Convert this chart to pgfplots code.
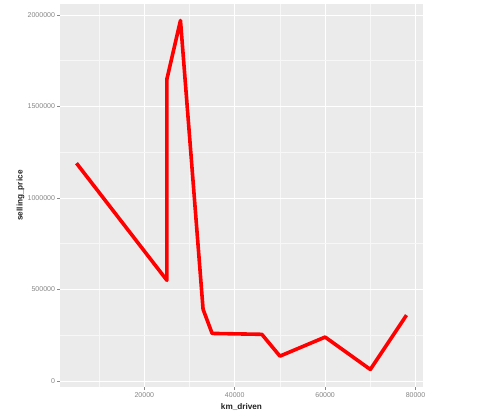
\documentclass[border=0pt]{standalone}
\usepackage{fontspec}
\setmainfont{Liberation Sans}
\usepackage{pgfplots}
\pgfplotsset{compat=1.18}
\definecolor{panel}{HTML}{EBEBEB}
\definecolor{ticktext}{HTML}{858585}
\definecolor{tickcol}{HTML}{8A8A8A}
\definecolor{titletext}{HTML}{222222}
\begin{document}
\begin{tikzpicture}
\begin{axis}[
  scale only axis,
  width=363pt, height=383pt,
  xmin=1350, xmax=81650,
  ymin=-32800, ymax=2060000,
  axis background/.style={fill=panel},
  axis line style={draw=none},
  xtick={20000,40000,60000,80000},
  xticklabels={20000,40000,60000,80000},
  ytick={0,500000,1000000,1500000,2000000},
  yticklabels={0,500000,1000000,1500000,2000000},
  minor xtick={10000,30000,50000,70000},
  minor ytick={250000,750000,1250000,1750000},
  grid=both,
  major grid style={white, line width=0.9pt},
  minor grid style={white!60!panel, line width=0.5pt},
  tick align=outside,
  major tick length=2.5pt,
  minor tick length=0pt,
  tick style={tickcol, line width=0.5pt},
  xtick pos=bottom, ytick pos=left,
  ticklabel style={font=\fontsize{7}{8}\selectfont, text=ticktext},
  xticklabel style={yshift=0pt},
  yticklabel style={xshift=1pt},
  xlabel={\textbf{km\_driven}},
  ylabel={\textbf{selling\_price}},
  label style={font=\fontsize{8.2}{9}\selectfont, text=titletext},
  xlabel style={yshift=1.5pt},
  ylabel style={yshift=-3.5pt},
  scaled ticks=false,
  /pgf/number format/assume math mode=true,
  clip=false,
]
\addplot[red, line width=3.6pt, line join=round] coordinates {
(5000,1190000)
(25000,550000)
(25000,1650000)
(28000,1970000)
(33000,392000)
(35000,260000)
(46000,255000)
(50000,136000)
(60000,240000)
(70000,63000)
(78000,360000)
};
\end{axis}
\pgfresetboundingbox
\useasboundingbox ([xshift=-60pt,yshift=-33pt]current axis.south west) rectangle ([xshift=56pt,yshift=4pt]current axis.north east);
\end{tikzpicture}
\end{document}
